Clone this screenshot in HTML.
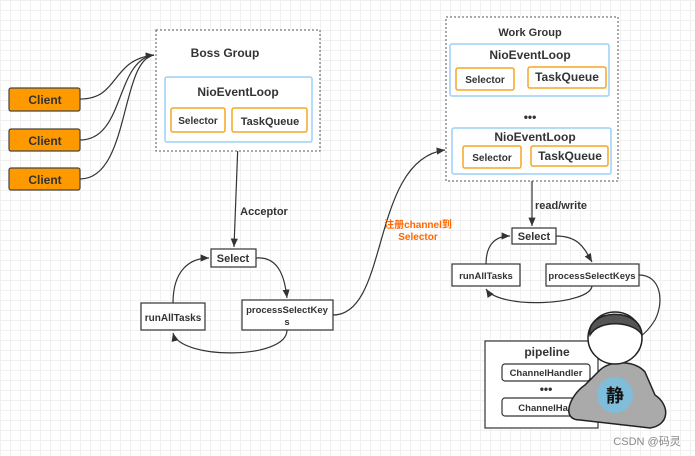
<!DOCTYPE html>
<html><head><meta charset="utf-8"><style>
body{margin:0;width:695px;height:456px;overflow:hidden;background:#fff;
background-image:linear-gradient(#f0f0f0 1px,transparent 1px),linear-gradient(90deg,#f0f0f0 1px,transparent 1px);background-size:10px 10px;}
svg{position:absolute;left:0;top:0}
text{font-family:"Liberation Sans","Noto Sans CJK SC",sans-serif;font-weight:bold;fill:#333}
</style></head><body>
<svg width="695" height="456" viewBox="0 0 695 456">
<defs><marker id="a" markerWidth="8" markerHeight="8" refX="7" refY="4" orient="auto"><path d="M0,1 L7,4 L0,7z" fill="#333"/></marker></defs>
<g fill="none" stroke="#333" stroke-width="1.2">
<path d="M80,99 C120,99 110,60 154,55" marker-end="url(#a)"/>
<path d="M80,140 C125,140 115,60 154,55"/>
<path d="M80,179 C130,179 120,60 154,55"/>
<path d="M238,142 L234,247" marker-end="url(#a)"/>
<path d="M256,258 C280,256 285,280 287,298" marker-end="url(#a)"/>
<path d="M173,303 C173,270 190,258 209,258" marker-end="url(#a)"/>
<path d="M287,330 C287,360 180,360 173,333" marker-end="url(#a)"/>
<path d="M333,315 C390,315 370,160 445,150" marker-end="url(#a)"/>
<path d="M532,174 L532,226" marker-end="url(#a)"/>
<path d="M556,236 C580,236 585,250 592,262" marker-end="url(#a)"/>
<path d="M486,264 C486,245 495,236 510,236" marker-end="url(#a)"/>
<path d="M592,286 C590,305 500,310 486,289" marker-end="url(#a)"/>
<path d="M639,275 C660,275 665,300 655,320 C640,345 620,345 600,355"/>
</g>
<rect x="156" y="30" width="164" height="121" fill="#fff" stroke="#555" stroke-dasharray="2,2"/>
<rect x="446" y="17" width="172" height="164" fill="#fff" stroke="#555" stroke-dasharray="2,2"/>
<g stroke="#9cd0f5" stroke-width="1.5" fill="#fff">
<rect x="165" y="77" width="147" height="65" rx="2"/>
<rect x="450" y="44" width="159" height="52" rx="2"/>
<rect x="452" y="128" width="159" height="46" rx="2"/>
</g>
<g stroke="#f5a623" stroke-width="1.5" fill="#fff">
<rect x="171" y="108" width="54" height="24" rx="2"/><rect x="232" y="108" width="75" height="24" rx="2"/>
<rect x="456" y="68" width="58" height="22" rx="2"/><rect x="528" y="67" width="78" height="21" rx="2"/>
<rect x="463" y="146" width="58" height="22" rx="2"/><rect x="531" y="146" width="77" height="20" rx="2"/>
</g>
<g fill="#f90" stroke="#444" stroke-width="1.2">
<rect x="9" y="88" width="71" height="23" rx="2"/><rect x="9" y="129" width="71" height="22" rx="2"/><rect x="9" y="168" width="71" height="22" rx="2"/>
</g>
<g fill="#fff" stroke="#333" stroke-width="1.2">
<rect x="211" y="249" width="45" height="18"/><rect x="141" y="303" width="64" height="27"/><rect x="242" y="300" width="91" height="30"/>
<rect x="512" y="228" width="44" height="16"/><rect x="452" y="264" width="68" height="22"/><rect x="546" y="264" width="93" height="22"/>
<rect x="485" y="341" width="113" height="87"/>
<rect x="502" y="364" width="88" height="17" rx="3"/><rect x="502" y="398" width="88" height="18" rx="3"/>
</g>
<g font-size="12" text-anchor="middle">
<text x="45" y="104">Client</text><text x="45" y="145">Client</text><text x="45" y="184">Client</text>
<text x="225" y="57">Boss Group</text><text x="238" y="96">NioEventLoop</text>
<text x="198" y="124" font-size="10">Selector</text><text x="270" y="125" font-size="11">TaskQueue</text>
<text x="530" y="36" font-size="11">Work Group</text>
<text x="530" y="59">NioEventLoop</text><text x="485" y="83" font-size="10">Selector</text><text x="567" y="81">TaskQueue</text>
<text x="530" y="121">•••</text>
<text x="535" y="141">NioEventLoop</text><text x="492" y="161" font-size="10">Selector</text><text x="570" y="160">TaskQueue</text>
<text x="264" y="215" font-size="11">Acceptor</text>
<text x="233" y="262" font-size="11">Select</text>
<text x="173" y="321" font-size="10">runAllTasks</text>
<text x="287" y="313" font-size="9.5">processSelectKey</text><text x="287" y="325" font-size="9.5">s</text>
<text x="561" y="209" font-size="11">read/write</text>
<text x="534" y="240" font-size="11">Select</text>
<text x="486" y="279" font-size="9.5">runAllTasks</text>
<text x="592" y="279" font-size="9.5">processSelectKeys</text>
<text x="418" y="228" font-size="10" style="fill:#f60">注册channel到</text>
<text x="418" y="240" font-size="10" style="fill:#f60">Selector</text>
<text x="547" y="356" font-size="12">pipeline</text>
<text x="546" y="376" font-size="9.5">ChannelHandler</text>
<text x="546" y="393">•••</text>
<text x="546" y="411" font-size="9.5">ChannelHan</text>
</g>
<g stroke="#222" stroke-width="1.5">
<path d="M580,420 C560,420 570,395 585,385 L600,370 C610,360 635,360 645,372 L655,395 C670,405 670,425 650,428 Z" fill="#aaa"/>
<ellipse cx="615" cy="338" rx="27" ry="26" fill="#fff"/>
<path d="M590,335 C585,310 640,305 642,335 C635,322 600,318 590,335Z" fill="#555"/>
<circle cx="615" cy="395" r="18" fill="#6cc5ee" stroke="none" opacity=".7"/>
</g>
<text x="615" y="402" font-size="18" text-anchor="middle" style="fill:#111">静</text>
<text x="647" y="445" font-size="11" text-anchor="middle" style="fill:#888;font-weight:normal">CSDN @码灵</text>
</svg>
</body></html>
